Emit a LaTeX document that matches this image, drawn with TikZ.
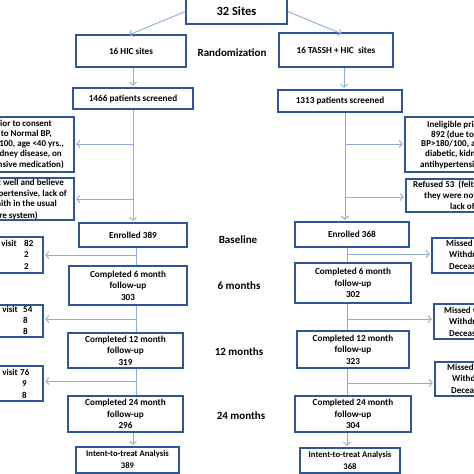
\documentclass[tikz,border=0pt]{standalone}
\usepackage{fontspec}
\setmainfont{Carlito}
\usetikzlibrary{arrows.meta,calc}
\definecolor{boxblue}{RGB}{47,85,151}
\definecolor{arrblue}{RGB}{143,170,220}
\begin{document}
\begin{tikzpicture}[x=1pt,y=-1pt,
  box/.style={draw=boxblue,line width=1.5pt,fill=white,inner sep=0pt,align=center,font=\fontsize{9.2}{11.5}\selectfont\bfseries},
  lbl/.style={inner sep=0pt,font=\fontsize{11}{13}\selectfont\bfseries},
  sidetxt/.style={inner sep=0pt,font=\fontsize{9}{10}\selectfont\bfseries,text height=6pt,text depth=1.5pt},
  arr/.style={draw=arrblue,line width=0.9pt,-{Straight Barb[length=3pt,width=7pt]},shorten >=1.5pt},
  ln/.style={draw=arrblue,line width=0.9pt}]
\useasboundingbox (0,0) rectangle (474,474);
\clip (0,0) rectangle (474,474);
\fill[white] (0,0) rectangle (474,474);

% main boxes
\node[box,minimum width=101pt,minimum height=25pt,font=\fontsize{12.5}{14}\selectfont\bfseries] (sites) at (236.5,11.5) {32 Sites};
\node[box,minimum width=110pt,minimum height=32pt] (hic) at (131,51) {16 HIC sites};
\node[box,minimum width=114pt,minimum height=34pt] (tassh) at (336,50) {16 TASSH + HIC\ \ sites};
\node[box,minimum width=120pt,minimum height=21pt] (scr1) at (133,98.5) {1466 patients screened};
\node[box,minimum width=124pt,minimum height=22pt] (scr2) at (340,101) {1313 patients screened};
\node[box,minimum width=108pt,minimum height=24pt] (enr1) at (133,235) {Enrolled 389};
\node[box,minimum width=114pt,minimum height=25pt] (enr2) at (352,234.5) {Enrolled 368};
\node[box,minimum width=118pt,minimum height=39pt] (m6L) at (128,285.5) {Completed 6 month\\follow-up\\303};
\node[box,minimum width=116pt,minimum height=40pt] (m6R) at (353,283) {Completed 6 month\\follow-up\\302};
\node[box,minimum width=115pt,minimum height=35pt] (m12L) at (125.5,350.5) {Completed 12 month\\follow-up\\319};
\node[box,minimum width=112pt,minimum height=37pt] (m12R) at (353,349.5) {Completed 12 month\\follow-up\\323};
\node[box,minimum width=115pt,minimum height=36pt] (m24L) at (125.5,414) {Completed 24 month\\follow-up\\296};
\node[box,minimum width=116pt,minimum height=36pt] (m24R) at (353,414) {Completed 24 month\\follow-up\\304};
\node[box,minimum width=103pt,minimum height=26pt,font=\fontsize{8.6}{12}\selectfont\bfseries] (ittL) at (127.5,460) {Intent-to-treat Analysis\\389};
\node[box,minimum width=100pt,minimum height=25pt,font=\fontsize{8.6}{12}\selectfont\bfseries] (ittR) at (350,460.5) {Intent-to-treat Analysis\\368};

% side boxes (partly outside the picture)
\node[box,minimum width=134pt,minimum height=55pt] (exL1) at (7,144.5) {};
\node[box,minimum width=134pt,minimum height=42pt] (exL2) at (7,199) {};
\node[box,minimum width=135pt,minimum height=55pt] (exR1) at (472.5,144.5) {};
\node[box,minimum width=134pt,minimum height=33pt] (exR2) at (473,195.5) {};
\node[box,minimum width=83pt,minimum height=36pt] (msL1) at (1.5,255) {};
\node[box,minimum width=83pt,minimum height=32pt] (msL2) at (1.5,321) {};
\node[box,minimum width=83pt,minimum height=35pt] (msL3) at (1.5,383.5) {};
\node[box,minimum width=88pt,minimum height=35pt] (msR1) at (476,255.5) {};
\node[box,minimum width=86pt,minimum height=35pt] (msR2) at (477,321.5) {};
\node[box,minimum width=85pt,minimum height=34pt] (msR3) at (477.5,379) {};

% side texts
\node[sidetxt,anchor=east] (tl11) at (52,124) {Ineligible prior to consent};
\node[sidetxt,anchor=east] (tl12) at (52,134) {due to Normal BP,};
\node[sidetxt,anchor=east] (tl13) at (64,144) {BP>180/100, age <40 yrs.,};
\node[sidetxt,anchor=east] (tl14) at (62,154) {diabetic, kidney disease, on};
\node[sidetxt,anchor=east] (tl15) at (64,165) {antihypertensive medication)};
\node[sidetxt,anchor=east] (tl21) at (64,183) {(felt well and believe};
\node[sidetxt,anchor=east] (tl22) at (67,194) {they were not hypertensive, lack of};
\node[sidetxt,anchor=east] (tl23) at (57,204) {faith in the usual};
\node[sidetxt,anchor=east] (tl24) at (38,216) {care system)};

\node[sidetxt,anchor=west] (tr11) at (427,125) {Ineligible prior to consent};
\node[sidetxt,anchor=west] (tr12) at (431,135) {892 (due to Normal BP,};
\node[sidetxt,anchor=west] (tr13) at (421,144) {BP>180/100, age <40 yrs.,};
\node[sidetxt,anchor=west] (tr14) at (425,154) {diabetic, kidney disease, on};
\node[sidetxt,anchor=west] (tr15) at (420,165) {antihypertensive medication)};
\node[sidetxt,anchor=west] (tr21) at (413,185) {Refused 53\ \ (felt well and believe};
\node[sidetxt,anchor=west] (tr22) at (424,196) {they were not hypertensive,};
\node[sidetxt,anchor=west] (tr23) at (450,207) {lack of faith in the usual care};

\node[sidetxt,anchor=east] (ml1a) at (17,244) {Missed visit};
\node[sidetxt,anchor=west] (ml1b) at (24,244) {82};
\node[sidetxt,anchor=west] (ml1c) at (24,255) {2};
\node[sidetxt,anchor=west] (ml1d) at (24,267) {2};
\node[sidetxt,anchor=east] (ml2a) at (18,310) {Missed visit};
\node[sidetxt,anchor=west] (ml2b) at (23,310) {54};
\node[sidetxt,anchor=west] (ml2c) at (23,321) {8};
\node[sidetxt,anchor=west] (ml2d) at (23,332) {8};
\node[sidetxt,anchor=east] (ml3a) at (18,373) {Missed visit};
\node[sidetxt,anchor=west] (ml3b) at (20,373) {76};
\node[sidetxt,anchor=west] (ml3c) at (22,384) {9};
\node[sidetxt,anchor=west] (ml3d) at (22,396) {8};

\node[sidetxt,anchor=west] (mr1a) at (446,244) {Missed visit};
\node[sidetxt,anchor=west] (mr1b) at (449,255) {Withdrew};
\node[sidetxt,anchor=west] (mr1c) at (449,267) {Deceased};
\node[sidetxt,anchor=west] (mr2a) at (444,311) {Missed visit};
\node[sidetxt,anchor=west] (mr2b) at (449,322) {Withdrew};
\node[sidetxt,anchor=west] (mr2c) at (449,334) {Deceased};
\node[sidetxt,anchor=west] (mr3a) at (447,368) {Missed visit};
\node[sidetxt,anchor=west] (mr3b) at (452,379) {Withdrew};
\node[sidetxt,anchor=west] (mr3c) at (451,391) {Deceased};

% stage labels
\node[lbl] (rand) at (232,53) {Randomization};
\node[lbl] (base) at (238,240) {Baseline};
\node[lbl] (l6) at (239,286) {6 months};
\node[lbl] (l12) at (239,352) {12 months};
\node[lbl] (l24) at (241,416) {24 months};

% column coordinates
\coordinate (cA) at (133,0);
\coordinate (cB) at (136,0);
\coordinate (cC) at (344,0);
\coordinate (cD) at (345,0);
\coordinate (cE) at (347,0);

% top arrows
\draw[arr] (sites.west) -- ($(hic.north)+(-3,1)$);
\draw[arr] (sites.east) -- ($(tassh.north)+(7,2)$);
\draw[arr] (hic.south -| cA) -- (scr1.north -| cA);
\draw[arr] (tassh.south -| cC) -- (scr2.north -| cC);

% left column
\draw[arr] (scr1.south -| cA) -- (enr1.north -| cA);
\coordinate (jL1) at (133,144);
\coordinate (jL2) at (133,199);
\draw[arr] (jL1) -- (exL1.east |- jL1);
\draw[arr] (jL2) -- (exL2.east |- jL2);
\draw[ln] (enr1.south -| cB) -- (m6L.north -| cB);
\draw[ln] (m6L.south -| cB) -- (m12L.north -| cB);
\draw[ln] (m12L.south -| cB) -- (m24L.north -| cB);
\coordinate (jL3) at (136,255);
\coordinate (jL4) at (136,319);
\coordinate (jL5) at (136,381);
\draw[arr] (jL3) -- (msL1.east |- jL3);
\draw[arr] (jL4) -- (msL2.east |- jL4);
\draw[arr] (jL5) -- (msL3.east |- jL5);
\draw[arr] (m24L.south -| cA) -- (ittL.north -| cA);

% right column
\draw[arr] (scr2.south -| cD) -- (enr2.north -| cD);
\coordinate (jR1) at (345,144);
\coordinate (jR2) at (345,197);
\draw[arr] (jR1) -- (exR1.west |- jR1);
\draw[arr] (jR2) -- (exR2.west |- jR2);
\draw[ln] (enr2.south -| cE) -- (m6R.north -| cE);
\draw[ln] (m6R.south -| cE) -- (m12R.north -| cE);
\draw[ln] (m12R.south -| cE) -- (m24R.north -| cE);
\coordinate (jR3) at (347,254);
\coordinate (jR4) at (347,319);
\coordinate (jR5) at (347,383);
\draw[arr] (jR3) -- (msR1.west |- jR3);
\draw[arr] (jR4) -- (msR2.west |- jR4);
\draw[arr] (jR5) -- (msR3.west |- jR5);
\draw[arr] (m24R.south -| cE) -- (ittR.north -| cE);
\end{tikzpicture}
\end{document}
